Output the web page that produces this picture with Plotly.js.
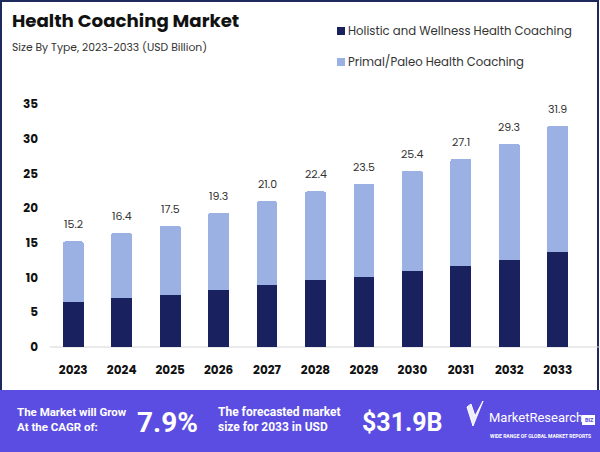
<!DOCTYPE html>
<html>
<head>
<meta charset="utf-8">
<script src="https://cdn.plot.ly/plotly-3.0.1.min.js"></script>
<style>
html,body{margin:0;padding:0;background:#fff;}
#chart{width:600px;height:452px;}
</style>
</head>
<body>
<div id="chart"></div>
<script>
// ---- data ----
const years = ['2023','2024','2025','2026','2027','2028','2029','2030','2031','2032','2033'];
const holistic = [6.5, 7.0, 7.5, 8.2, 9.0, 9.6, 10.1, 10.9, 11.7, 12.6, 13.7];
const primal = [8.7, 9.4, 10.0, 11.1, 12.0, 12.8, 13.4, 14.5, 15.4, 16.7, 18.2];
const totals = [15.2, 16.4, 17.5, 19.3, 21.0, 22.4, 23.5, 25.4, 27.1, 29.3, 31.9];
const seriesNames = ['Holistic and Wellness Health Coaching', 'Primal/Paleo Health Coaching'];
const yTicks = [0, 5, 10, 15, 20, 25, 30, 35];
const titleText = 'Health Coaching Market';
const subtitleText = 'Size By Type, 2023-2033 (USD Billion)';
const cagrText = '7.9%';
const forecastText = '$31.9B';

// ---- layout helpers (pixel -> paper) ----
const W = 600, H = 452;
const M = {l: 49, r: 18, t: 104, b: 105};
const PW = W - M.l - M.r, PH = H - M.t - M.b;
const px = x => (x - M.l) / PW;
const py = y => (H - M.b - y) / PH;

const DARK = '#19215f';
const LIGHT = '#9bb1e3';
const PURPLE = '#5b4ce2';
const FONT = 'Poppins, "Open Sans", sans-serif';
const BFONT = 'Roboto, "Liberation Sans", sans-serif';

const traces = [
  {type: 'bar', x: years, y: holistic, name: seriesNames[0], marker: {color: DARK}, hoverinfo: 'skip'},
  {type: 'bar', x: years, y: primal, name: seriesNames[1], marker: {color: LIGHT, cornerradius: 2}, hoverinfo: 'skip'}
];

const annotations = [];
years.forEach((yr, i) => {
  annotations.push({x: i, y: totals[i], xref: 'x', yref: 'y', text: totals[i].toFixed(1),
    showarrow: false, yanchor: 'bottom', yshift: 7, font: {family: FONT, size: 11, color: '#333'}});
});
function txt(x, y, text, font, opts) {
  return Object.assign({xref: 'paper', yref: 'paper', x: px(x), y: py(y), text: text, showarrow: false,
    xanchor: 'left', yanchor: 'middle', font: font}, opts || {});
}
annotations.push(txt(10, 21, '<b>' + titleText + '</b>', {family: FONT, size: 18.2, color: '#111'}));
annotations.push(txt(10, 48, subtitleText, {family: FONT, size: 10.8, color: '#333'}));
annotations.push(txt(346, 31, seriesNames[0], {family: FONT, size: 11.7, color: '#333'}));
annotations.push(txt(346, 62, seriesNames[1], {family: FONT, size: 11.7, color: '#333'}));
// banner texts
const wf = (sz) => ({family: BFONT, size: sz, color: '#fff'});
annotations.push(txt(15, 412, '<b>The Market will Grow</b>', wf(11.5)));
annotations.push(txt(15, 427, '<b>At the CAGR of:</b>', wf(11.5)));
annotations.push(txt(135, 422, '<b>' + cagrText + '</b>', wf(28)));
annotations.push(txt(216, 412, '<b>The forecasted market</b>', wf(12)));
annotations.push(txt(216, 427, '<b>size for 2033 in USD</b>', wf(12)));
annotations.push(txt(360, 422, '<b>' + forecastText + '</b>', wf(25)));
annotations.push(txt(487, 417, 'MarketResearch', {family: BFONT, size: 13, color: '#fff'}));
annotations.push(txt(488, 436, '<b>WIDE RANGE OF GLOBAL MARKET REPORTS</b>', {family: BFONT, size: 5, color: '#fff'}));
annotations.push(txt(583, 420, '<b>BIZ</b>', {family: BFONT, size: 5.5, color: PURPLE}));

const shapes = [
  // card border
  {type: 'rect', xref: 'paper', yref: 'paper', x0: px(1), x1: px(598), y0: py(1), y1: py(396), line: {color: '#1f2a5c', width: 2}, fillcolor: 'rgba(0,0,0,0)', layer: 'below'},
  // baseline
  {type: 'line', xref: 'paper', yref: 'paper', x0: px(50), x1: px(600), y0: py(347), y1: py(347), line: {color: '#d6d6d6', width: 1}, layer: 'below'},
  // legend swatches
  {type: 'rect', xref: 'paper', yref: 'paper', x0: px(337), x1: px(345), y0: py(27), y1: py(35), fillcolor: DARK, line: {width: 0}},
  {type: 'rect', xref: 'paper', yref: 'paper', x0: px(337), x1: px(345), y0: py(58), y1: py(66), fillcolor: LIGHT, line: {width: 0}},
  // banner
  {type: 'rect', xref: 'paper', yref: 'paper', x0: px(0), x1: px(600), y0: py(390), y1: py(452), fillcolor: PURPLE, line: {width: 0}},
  // logo check mark
  {type: 'path', xref: 'paper', yref: 'paper',
   path: 'M ' + px(467) + ',' + py(407) + ' L ' + px(473) + ',' + py(426) + ' L ' + px(483) + ',' + py(401) + ' L ' + px(475) + ',' + py(416) + ' L ' + px(471) + ',' + py(404) + ' Z',
   fillcolor: 'rgba(255,255,255,0.9)', line: {color: '#fff', width: 1}},
  // biz box
  {type: 'rect', xref: 'paper', yref: 'paper', x0: px(582), x1: px(595), y0: py(415), y1: py(425), fillcolor: '#fff', line: {width: 0}}
];

const layout = {
  width: W, height: H,
  margin: M,
  paper_bgcolor: '#fff', plot_bgcolor: '#fff',
  barmode: 'stack', bargap: 0.57,
  showlegend: false,
  xaxis: {type: 'category', range: [-0.5, 10.5], showgrid: false, zeroline: false, showline: false, ticks: '',
    tickfont: {family: FONT, size: 12, color: '#111', weight: 'bold'}, ticklabelstandoff: 14},
  yaxis: {range: [0, 35], tickvals: yTicks, showgrid: false, zeroline: false, showline: false, ticks: '',
    tickfont: {family: FONT, size: 12, color: '#111', weight: 'bold'}, ticklabelstandoff: 10},
  annotations: annotations,
  shapes: shapes
};

Plotly.newPlot('chart', traces, layout, {staticPlot: true, displayModeBar: false});
</script>
</body>
</html>
